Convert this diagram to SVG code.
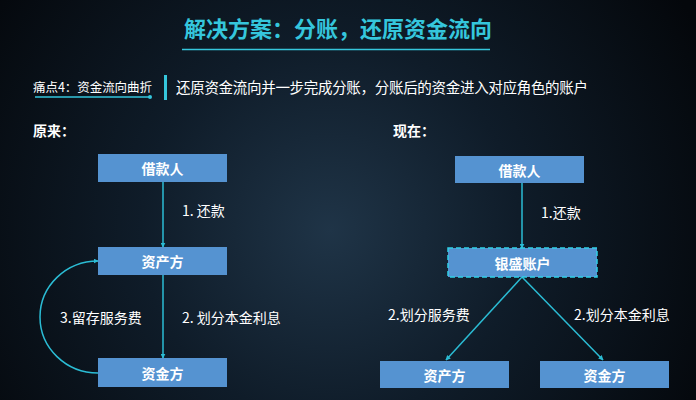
<svg xmlns="http://www.w3.org/2000/svg" width="696" height="400" viewBox="0 0 696 400">
<defs>
<radialGradient id="bg" cx="330" cy="230" r="420" gradientUnits="userSpaceOnUse">
<stop offset="0" stop-color="#1f3447"/>
<stop offset="0.45" stop-color="#0f1c29"/>
<stop offset="1" stop-color="#04070b"/>
</radialGradient>
<marker id="ah" viewBox="0 0 8 8" refX="7" refY="4" markerWidth="5" markerHeight="5" orient="auto" markerUnits="userSpaceOnUse">
<path d="M0,0 L8,4 L0,8 z" fill="#2bbcd4"/>
</marker>
<style>
.t{font-family:"Noto Sans CJK SC","Noto Sans",sans-serif;}
.box{fill:#5593d1;}
.bt{font-family:"Noto Sans CJK SC",sans-serif;font-size:14px;font-weight:bold;fill:#ffffff;text-anchor:middle;dominant-baseline:central;}
.lbl{font-family:"Noto Sans CJK SC",sans-serif;font-size:14px;fill:#ffffff;dominant-baseline:central;}
.hd{font-family:"Noto Sans CJK SC",sans-serif;font-size:14px;font-weight:bold;fill:#ffffff;dominant-baseline:central;}
.c{stroke:#2bbcd4;stroke-width:1.5;fill:none;}
</style>
</defs>
<rect width="696" height="400" fill="url(#bg)"/>

<g id="title">
<text x="338" y="27" class="t" font-size="22" font-weight="bold" fill="#35c6dc" text-anchor="middle" dominant-baseline="central">解决方案：分账，还原资金流向</text>
<line x1="182" y1="49.5" x2="490" y2="49.5" stroke="#35c6dc" stroke-width="1.5"/>
</g>

<g id="subtitle">
<text x="33" y="86" class="t" font-size="12.5" fill="#ffffff" dominant-baseline="central" textLength="119">痛点4：资金流向曲折</text>
<line x1="35" y1="97" x2="150" y2="97" stroke="#35c6dc" stroke-width="1.5"/>
<circle cx="150" cy="97" r="2" fill="#35c6dc"/>
<rect x="164" y="75" width="3" height="25" fill="#35c6dc"/>
<text x="176" y="86" class="t" font-size="14.5" fill="#ffffff" dominant-baseline="central" textLength="412">还原资金流向并一步完成分账，分账后的资金进入对应角色的账户</text>
</g>

<text x="33" y="130" class="hd">原来：</text>
<text x="393" y="130" class="hd">现在：</text>

<g id="connectors">
<line x1="163" y1="182" x2="163" y2="247" class="c" marker-end="url(#ah)"/>
<line x1="163" y1="275" x2="163" y2="358" class="c" marker-end="url(#ah)"/>
<path d="M98,373 A58,56 0 0 1 98,261" class="c" marker-end="url(#ah)"/>
<line x1="522" y1="183" x2="522" y2="248" class="c" marker-end="url(#ah)"/>
<line x1="522" y1="277" x2="446" y2="360" class="c" marker-end="url(#ah)"/>
<line x1="522" y1="277" x2="603" y2="360" class="c" marker-end="url(#ah)"/>
<text x="182" y="210" class="lbl">1. 还款</text>
<text x="182" y="317" class="lbl">2. 划分本金利息</text>
<text x="60" y="317" class="lbl">3.留存服务费</text>
<text x="541" y="212" class="lbl">1.还款</text>
<text x="388" y="314" class="lbl">2.划分服务费</text>
<text x="574" y="314" class="lbl">2.划分本金利息</text>
</g>

<g id="old-borrower">
<rect x="98" y="154" width="129" height="28" class="box"/>
<text x="162.5" y="168" class="bt">借款人</text>
</g>
<g id="old-asset">
<rect x="98" y="247" width="129" height="28" class="box"/>
<text x="162.5" y="261" class="bt">资产方</text>
</g>
<g id="old-fund">
<rect x="98" y="358" width="129" height="29" class="box"/>
<text x="162.5" y="372.5" class="bt">资金方</text>
</g>

<g id="new-borrower">
<rect x="455" y="156" width="129" height="27" class="box"/>
<text x="519.5" y="169.5" class="bt">借款人</text>
</g>
<g id="new-yinsheng">
<rect x="448" y="248" width="149" height="29" class="box" stroke="#2fd0e6" stroke-width="1.5" stroke-dasharray="5,3"/>
<text x="522.5" y="262.5" class="bt">银盛账户</text>
</g>
<g id="new-asset">
<rect x="380" y="361" width="129" height="27" class="box"/>
<text x="444.5" y="374.5" class="bt">资产方</text>
</g>
<g id="new-fund">
<rect x="540" y="361" width="129" height="27" class="box"/>
<text x="604.5" y="374.5" class="bt">资金方</text>
</g>
</svg>
